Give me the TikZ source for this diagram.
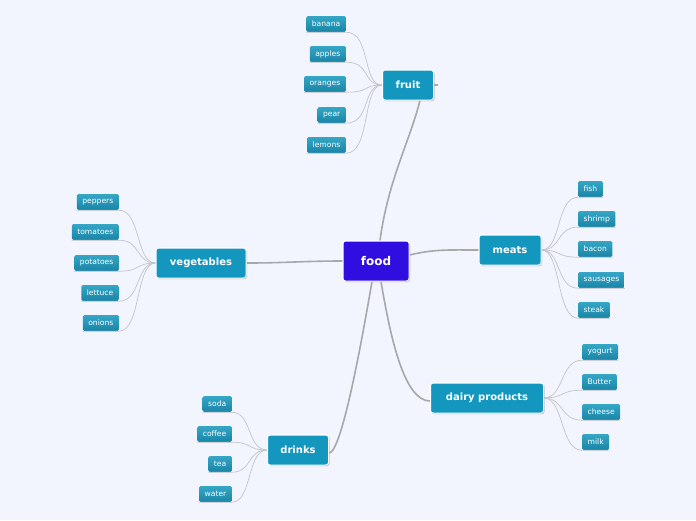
\documentclass[tikz,border=0pt]{standalone}
\usepackage{fontspec}
\setmainfont{DejaVu Sans}
\usetikzlibrary{shadows}
\definecolor{bg}{HTML}{F2F5FE}
\definecolor{teal}{HTML}{1497BE}
\definecolor{leafa}{HTML}{35A6C6}
\definecolor{leafb}{HTML}{1A85A6}
\definecolor{foodc}{HTML}{300EE0}
\definecolor{conn}{HTML}{A8A8A8}
\definecolor{lconn}{HTML}{C4C4C8}
\tikzset{
  x=1pt,y=-1pt,
  topic/.style={draw=white,line width=1pt,rounded corners=2.5pt,fill=teal,text=white,font=\bfseries\fontsize{10}{11}\selectfont,minimum height=30,inner xsep=5pt,drop shadow={shadow xshift=1pt,shadow yshift=-1pt,opacity=0.3}},
  rootbox/.style={topic,fill=foodc,minimum height=40,font=\bfseries\fontsize{12}{13}\selectfont},
  leaf/.style={rounded corners=1.5pt,top color=leafa,bottom color=leafb,text=white,font=\fontsize{7.6}{8}\selectfont,minimum height=16,inner xsep=5.5pt,inner ysep=0pt},
  main/.style={draw=conn,line width=1.6pt},
  lk/.style={draw=lconn,line width=0.7pt}
}
\begin{document}
\begin{tikzpicture}
\fill[bg] (0,0) rectangle (696,520);
\useasboundingbox (0,0) rectangle (696,520);
\node[rootbox,minimum width=66] (food) at (376,261) {food};
\node[topic,minimum width=51] (fruit) at (408,85) {fruit};
\node[topic,minimum width=62] (meats) at (510,250) {meats};
\node[topic,minimum width=113] (dairy) at (487,398) {dairy products};
\node[topic,minimum width=61] (drinks) at (298,450) {drinks};
\node[topic,minimum width=90] (veg) at (201,263) {vegetables};
\draw[main] (food.north) ++(4,0) .. controls +(8,-60) and +(-10,40) .. ([xshift=12]fruit.south);
\draw[main] (food.east) ++(0,-6) .. controls +(25,-6) and +(-30,0) .. (meats.west);
\draw[main] (food.south) ++(5,0) .. controls +(10,60) and +(-25,0) .. ([yshift=-3]dairy.west);
\draw[main] (food.south) ++(-4,0) .. controls +(-12,70) and +(12,0) .. ([yshift=-3]drinks.east);
\draw[main] (food.west) .. controls +(-40,0) and +(40,0) .. (veg.east);
\draw[main] (fruit.east) -- ++(4,0);
\foreach \n/\t/\y in {fa/banana/24,fb/apples/54,fc/oranges/84,fd/pear/115,fe/lemons/145}{
  \node[leaf,anchor=east] (\n) at (346,\y) {\t};
  \draw[lk] (\n.south west) -- (\n.south east) .. controls +(25,0) and +(-20,0) .. (fruit.west);
}
\foreach \n/\t/\y in {ma/fish/189,mb/shrimp/219,mc/bacon/249,md/sausages/280,me/steak/310}{
  \node[leaf,anchor=west] (\n) at (578,\y) {\t};
  \draw[lk] (\n.south east) -- (\n.south west) .. controls +(-22,0) and +(20,0) .. (meats.east);
}
\foreach \n/\t/\y in {da/yogurt/352,db/Butter/382,dc/cheese/412,dd/milk/442}{
  \node[leaf,anchor=west] (\n) at (582,\y) {\t};
  \draw[lk] (\n.south east) -- (\n.south west) .. controls +(-22,0) and +(20,0) .. (dairy.east);
}
\foreach \n/\t/\y in {ra/soda/404,rb/coffee/434,rc/tea/464,rd/water/494}{
  \node[leaf,anchor=east] (\n) at (232,\y) {\t};
  \draw[lk] (\n.south west) -- (\n.south east) .. controls +(20,0) and +(-20,0) .. (drinks.west);
}
\foreach \n/\t/\y in {va/peppers/202,vb/tomatoes/232,vc/potatoes/263,vd/lettuce/293,ve/onions/323}{
  \node[leaf,anchor=east] (\n) at (119,\y) {\t};
  \draw[lk] (\n.south west) -- (\n.south east) .. controls +(22,0) and +(-20,0) .. (veg.west);
}
\node[rootbox,minimum width=66] at (376,261) {food};
\node[topic,minimum width=51] at (408,85) {fruit};
\node[topic,minimum width=62] at (510,250) {meats};
\node[topic,minimum width=113] at (487,398) {dairy products};
\node[topic,minimum width=61] at (298,450) {drinks};
\node[topic,minimum width=90] at (201,263) {vegetables};
\end{tikzpicture}
\end{document}
